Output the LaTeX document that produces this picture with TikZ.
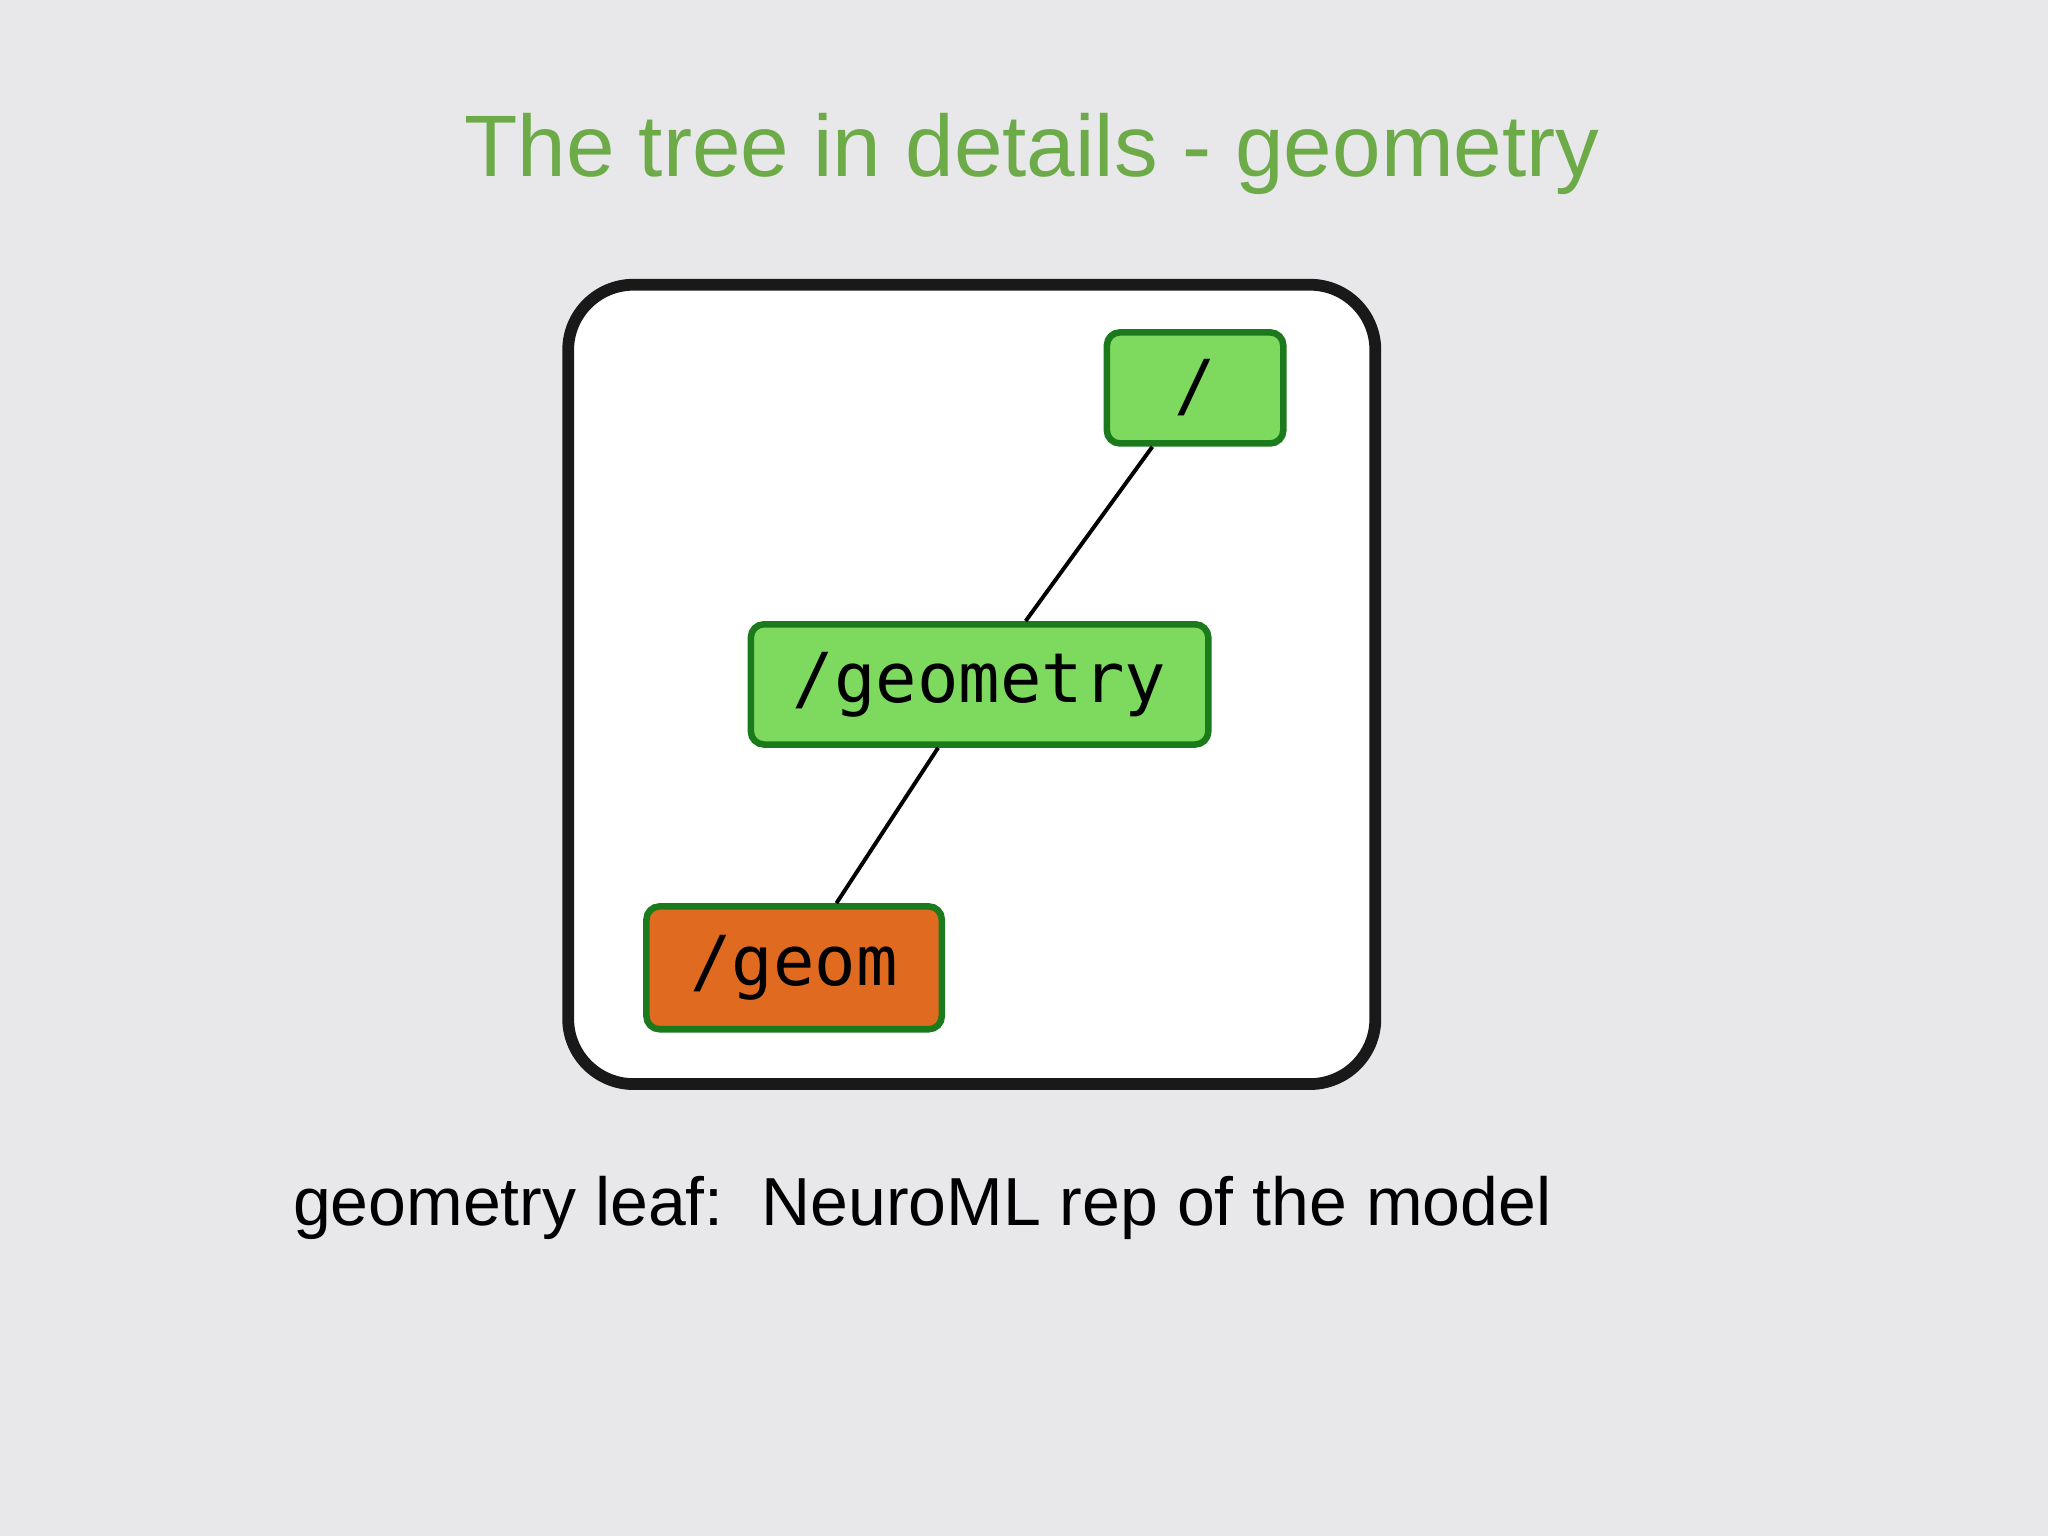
\documentclass[tikz,border=0pt]{standalone}
\usepackage{fontspec}
\setmainfont{Liberation Sans}
\newfontfamily\treemono{DejaVu Sans Mono}
\definecolor{slidebg}{HTML}{E8E8EA}
\definecolor{titlegreen}{HTML}{6DAA48}
\definecolor{leafgreen}{HTML}{7ED95F}
\definecolor{edgegreen}{HTML}{1B7A1B}
\definecolor{leaforange}{HTML}{E06A20}
\tikzset{
    treenode/.style={draw=edgegreen, line width=0.5mm, rounded corners=0.1cm,
        fill=leafgreen, font=\treemono\fontsize{15}{15}\selectfont, inner sep=0pt},
    edge/.style={line width=0.3mm}
}
\begin{document}
\begin{tikzpicture}[x=0.01cm, y=-0.01cm]
    \fill [slidebg] (0, 0) rectangle (1568, 1176);
    \useasboundingbox (0, 0) rectangle (1568, 1176);
    \node [font=\fontsize{19}{19}\selectfont, text=titlegreen] (title) at (790, 118) {The tree in details - geometry};
    \draw [line width=0.9mm, fill=white, rounded corners=0.5cm, draw=black!90] (435, 218) rectangle (1053, 830);
    \node [treenode, minimum width=1.35cm, minimum height=0.85cm] (root) at (915, 297) {/};
    \node [treenode, minimum width=3.5cm, minimum height=0.92cm] (geometry) at (750, 524) {/geometry};
    \node [treenode, fill=leaforange, minimum width=2.26cm, minimum height=0.94cm] (geom) at (608, 741) {/geom};
    \draw [edge] (root) -- (geometry);
    \draw [edge] (geometry) -- (geom);
    \node [anchor=west, font=\fontsize{14.8}{14.8}\selectfont] (caption) at (212, 925) {geometry leaf:\ \ NeuroML rep of the model};
\end{tikzpicture}
\end{document}
